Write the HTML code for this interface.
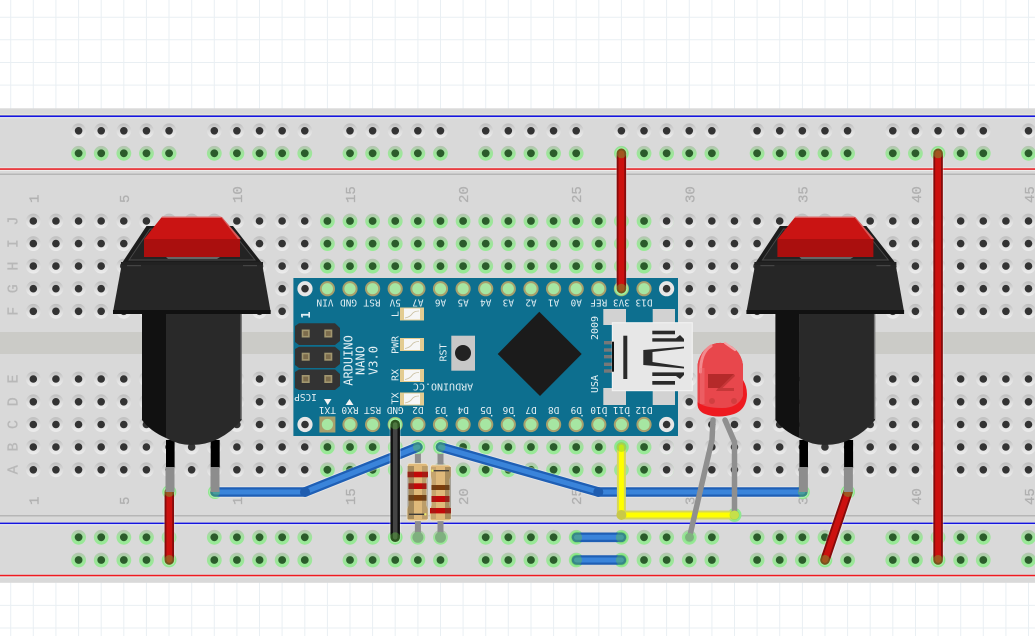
<!DOCTYPE html>
<html>
<head>
<meta charset="utf-8">
<style>
html,body{margin:0;padding:0;background:#fff;width:1035px;height:636px;overflow:hidden}
svg{display:block;filter:blur(.35px)}
.n{font-family:"Liberation Mono",monospace;font-size:14px;fill:#b0b0b0;stroke:#b0b0b0;stroke-width:.3}
.l{font-family:"Liberation Mono",monospace;font-size:15px;fill:#b8b8b8;stroke:#b8b8b8;stroke-width:.3;text-anchor:middle}
.p{font-family:"DejaVu Sans Mono","Liberation Mono",monospace;font-size:9.4px;fill:#e4f0f4;text-anchor:middle}
.w{font-family:"DejaVu Sans Mono","Liberation Mono",monospace;fill:#e4f0f4;text-anchor:middle}
.wire{fill:none;stroke-linecap:round;stroke-linejoin:round}
</style>
</head>
<body>
<svg xmlns="http://www.w3.org/2000/svg" xmlns:xlink="http://www.w3.org/1999/xlink" width="1035" height="636" viewBox="0 0 1035 636">
<defs>
<linearGradient id="gh" x1="0" y1="0" x2="0" y2="1"><stop offset="0" stop-color="#bcbcbc"/><stop offset=".5" stop-color="#dcdcdc"/><stop offset="1" stop-color="#eeeeee"/></linearGradient>
<linearGradient id="gg" x1="0" y1="0" x2="0" y2="1"><stop offset="0" stop-color="#b7c2b3"/><stop offset=".45" stop-color="#9fe49c"/><stop offset="1" stop-color="#96ea94"/></linearGradient>
<g id="h"><circle r="7.4" fill="url(#gh)"/><circle r="3.8" fill="#333"/></g>
<g id="g"><circle r="7.4" fill="url(#gg)"/><circle r="3.9" fill="#2b5c2b"/></g>
<g id="r5h"><use href="#h" x="0"/><use href="#h" x="22.62"/><use href="#h" x="45.24"/><use href="#h" x="67.86"/><use href="#h" x="90.48"/></g>
<g id="r5g"><use href="#g" x="0"/><use href="#g" x="22.62"/><use href="#g" x="45.24"/><use href="#g" x="67.86"/><use href="#g" x="90.48"/></g>
<g id="railh"><use href="#r5h" x="78.6"/><use href="#r5h" x="214.3"/><use href="#r5h" x="350"/><use href="#r5h" x="485.7"/><use href="#r5h" x="621.4"/><use href="#r5h" x="757.1"/><use href="#r5h" x="892.8"/><use href="#r5h" x="1028.5"/></g>
<g id="railg"><use href="#r5g" x="78.6"/><use href="#r5g" x="214.3"/><use href="#r5g" x="350"/><use href="#r5g" x="485.7"/><use href="#r5g" x="621.4"/><use href="#r5g" x="757.1"/><use href="#r5g" x="892.8"/><use href="#r5g" x="1028.5"/></g>
<g id="mrow">
<use href="#r5h" x="33.3"/><use href="#r5h" x="146.4"/><use href="#r5h" x="259.5"/>
<use href="#g" x="327.4"/><use href="#r5g" x="350"/><use href="#r5g" x="463.1"/><use href="#r5g" x="576.2"/>
<use href="#r5h" x="666.6"/><use href="#r5h" x="779.7"/><use href="#r5h" x="892.8"/><use href="#h" x="1005.9"/><use href="#h" x="1028.5"/>
</g>
<g id="pad"><circle r="7.6" fill="#a8a06c"/><circle r="5.6" fill="#a6e6a2"/></g>
<g id="mh"><circle r="7.6" fill="#e6e6e6"/><circle r="3.8" fill="#333"/></g>
<g id="smd"><rect x="-12" y="-6.5" width="24" height="13" fill="#e3cc91"/><rect x="-8" y="-5.5" width="16" height="11" fill="#f6f6f6"/><path d="M-7 4 Q-2 3 0 0 T7 -3" fill="none" stroke="#c9bfa0" stroke-width=".8"/></g>
<g id="ic"><rect x="-4" y="-4" width="8" height="8" fill="#a2976f"/><rect x="-2.4" y="-2.4" width="4.8" height="4.8" fill="#7c6c4c"/></g>
<g id="button">
<polygon points="146.5,226 233,226 262,263 122,263" fill="#1c1c1c"/>
<polygon points="150,229 230,229 255,260 129,260" fill="#232323" stroke="#4a4a4a" stroke-width=".9"/>
<polygon points="162,216.7 220.7,216.7 240,239.3 144,239.3" fill="#ca1413"/>
<polygon points="220.7,216.7 222,217 241,239.3 238,239.3" fill="#d85a5a"/>
<polygon points="162,216.7 220.7,216.7 221,218 161,218" fill="#e06060"/>
<rect x="144" y="239" width="96" height="18" fill="#aa0f0e"/>
<polygon points="166,257 220,257 217,259 168,259" fill="#666"/>
<rect x="166" y="440" width="8.6" height="28" fill="#000"/>
<rect x="210.7" y="440" width="9" height="28" fill="#000"/>
<rect x="165.5" y="467" width="9" height="25" fill="#8d8d8d"/>
<rect x="210.5" y="467" width="9" height="25" fill="#8d8d8d"/>
<path d="M166 313 H241.7 V420 Q220 445 191.7 445 Q178 445 166 438 Z" fill="#292929"/>
<path d="M142 313 H166 V438 Q150 431 142 420 Z" fill="#111"/>
<rect x="240.5" y="314" width="1.4" height="105" fill="#777"/>
<polygon points="122,263 262,263 270.7,312 113,312" fill="#262626"/>
<rect x="113" y="310" width="157.7" height="4" fill="#111"/>
<rect x="121" y="262" width="142" height="3" fill="#222"/>
<rect x="127" y="265" width="14" height="1.2" fill="#444"/>
<rect x="243" y="265" width="14" height="1.2" fill="#444"/>
</g>
</defs>

<!-- grid background -->
<rect width="1035" height="636" fill="#fff"/>
<g stroke="#e9eff3" stroke-width="1">
<path d="M10.7 0V636M33.3 0V636M55.9 0V636M78.6 0V636M101.2 0V636M123.8 0V636M146.4 0V636M169 0V636M191.7 0V636M214.3 0V636M236.9 0V636M259.5 0V636M282.1 0V636M304.8 0V636M327.4 0V636M350 0V636M372.6 0V636M395.2 0V636M417.9 0V636M440.5 0V636M463.1 0V636M485.7 0V636M508.3 0V636M531 0V636M553.6 0V636M576.2 0V636M598.8 0V636M621.4 0V636M644 0V636M666.6 0V636M689.3 0V636M711.9 0V636M734.5 0V636M757.1 0V636M779.7 0V636M802.4 0V636M825 0V636M847.6 0V636M870.2 0V636M892.8 0V636M915.5 0V636M938.1 0V636M960.7 0V636M983.3 0V636M1005.9 0V636M1028.5 0V636"/>
<path d="M0 17.2H1035M0 39.8H1035M0 62.5H1035M0 85.1H1035M0 605.4H1035M0 628H1035"/>
</g>

<!-- breadboard -->
<rect x="0" y="108.3" width="1035" height="474.5" fill="#d9d9d9"/>
<rect x="0" y="114.4" width="1035" height="1" fill="#f0eecb"/>
<rect x="0" y="115.4" width="1035" height="1.8" fill="#1515e0"/>
<rect x="0" y="117.2" width="1035" height="1" fill="#eef3f5"/>
<rect x="0" y="167.4" width="1035" height="1" fill="#f1e6e6"/>
<rect x="0" y="168.3" width="1035" height="1.6" fill="#e8191f"/>
<rect x="0" y="169.9" width="1035" height="1" fill="#eee"/>
<rect x="0" y="173.6" width="1035" height="1.2" fill="#adadad"/>
<rect x="0" y="332" width="1035" height="22" fill="#cbcbc7"/>
<rect x="0" y="515.2" width="1035" height="1.2" fill="#adadad"/>
<rect x="0" y="522.6" width="1035" height="1.6" fill="#1515e0"/>
<rect x="0" y="524.2" width="1035" height="1" fill="#eef3f5"/>
<rect x="0" y="574.8" width="1035" height="1.6" fill="#f01a20"/>
<rect x="0" y="576.4" width="1035" height="1" fill="#eaf2f2"/>

<use href="#railh" y="130.8"/>
<use href="#railg" y="153.3"/>
<use href="#railg" y="537.3"/>
<use href="#railg" y="560"/>
<use href="#mrow" y="221"/><use href="#mrow" y="243.6"/><use href="#mrow" y="266.1"/><use href="#mrow" y="288.7"/><use href="#mrow" y="311.3"/>
<use href="#mrow" y="379"/><use href="#mrow" y="401.8"/><use href="#mrow" y="424.5"/><use href="#mrow" y="447"/><use href="#mrow" y="469.8"/>

<!-- numbers top -->
<g class="n">
<text transform="translate(38.5,203) rotate(-90)">1</text>
<text transform="translate(129,203) rotate(-90)">5</text>
<text transform="translate(242,203) rotate(-90)">10</text>
<text transform="translate(355,203) rotate(-90)">15</text>
<text transform="translate(468,203) rotate(-90)">20</text>
<text transform="translate(581,203) rotate(-90)">25</text>
<text transform="translate(694.5,203) rotate(-90)">30</text>
<text transform="translate(807.5,203) rotate(-90)">35</text>
<text transform="translate(921,203) rotate(-90)">40</text>
<text transform="translate(1034,203) rotate(-90)">45</text>
<text transform="translate(38.5,505) rotate(-90)">1</text>
<text transform="translate(129,505) rotate(-90)">5</text>
<text transform="translate(242,505) rotate(-90)">10</text>
<text transform="translate(355,505) rotate(-90)">15</text>
<text transform="translate(468,505) rotate(-90)">20</text>
<text transform="translate(581,505) rotate(-90)">25</text>
<text transform="translate(694.5,505) rotate(-90)">30</text>
<text transform="translate(807.5,505) rotate(-90)">35</text>
<text transform="translate(921,505) rotate(-90)">40</text>
<text transform="translate(1034,505) rotate(-90)">45</text>
</g>
<g class="l">
<text transform="translate(17.5,221) rotate(-90)">J</text>
<text transform="translate(17.5,243.6) rotate(-90)">I</text>
<text transform="translate(17.5,266.1) rotate(-90)">H</text>
<text transform="translate(17.5,288.7) rotate(-90)">G</text>
<text transform="translate(17.5,311.3) rotate(-90)">F</text>
<text transform="translate(17.5,379) rotate(-90)">E</text>
<text transform="translate(17.5,401.8) rotate(-90)">D</text>
<text transform="translate(17.5,424.5) rotate(-90)">C</text>
<text transform="translate(17.5,447) rotate(-90)">B</text>
<text transform="translate(17.5,469.8) rotate(-90)">A</text>
</g>

<!-- Arduino Nano -->
<rect x="293.4" y="278" width="384.6" height="158" fill="#0d6f8f"/>
<use href="#mh" x="305" y="288.7"/><use href="#mh" x="305" y="424.5"/><use href="#mh" x="666.6" y="288.7"/><use href="#mh" x="666.6" y="424.5"/>
<g>
<use href="#pad" x="327.4" y="288.7"/><use href="#pad" x="350" y="288.7"/><use href="#pad" x="372.6" y="288.7"/><use href="#pad" x="395.2" y="288.7"/><use href="#pad" x="417.9" y="288.7"/><use href="#pad" x="440.5" y="288.7"/><use href="#pad" x="463.1" y="288.7"/><use href="#pad" x="485.7" y="288.7"/><use href="#pad" x="508.3" y="288.7"/><use href="#pad" x="531" y="288.7"/><use href="#pad" x="553.6" y="288.7"/><use href="#pad" x="576.2" y="288.7"/><use href="#pad" x="598.8" y="288.7"/><use href="#pad" x="621.4" y="288.7"/><use href="#pad" x="644" y="288.7"/>
<rect x="319.4" y="416.5" width="16" height="16" fill="#a8a06c"/>
<use href="#pad" x="327.4" y="424.5"/><use href="#pad" x="350" y="424.5"/><use href="#pad" x="372.6" y="424.5"/><use href="#pad" x="395.2" y="424.5"/><use href="#pad" x="417.9" y="424.5"/><use href="#pad" x="440.5" y="424.5"/><use href="#pad" x="463.1" y="424.5"/><use href="#pad" x="485.7" y="424.5"/><use href="#pad" x="508.3" y="424.5"/><use href="#pad" x="531" y="424.5"/><use href="#pad" x="553.6" y="424.5"/><use href="#pad" x="576.2" y="424.5"/><use href="#pad" x="598.8" y="424.5"/><use href="#pad" x="621.4" y="424.5"/><use href="#pad" x="644" y="424.5"/>
</g>
<g class="p">
<text transform="translate(325,299.6) rotate(180)">VIN</text>
<text transform="translate(348.5,299.6) rotate(180)">GND</text>
<text transform="translate(372,299.6) rotate(180)">RST</text>
<text transform="translate(395.2,299.6) rotate(180)">5V</text>
<text transform="translate(417.9,299.6) rotate(180)">A7</text>
<text transform="translate(440.5,299.6) rotate(180)">A6</text>
<text transform="translate(463.1,299.6) rotate(180)">A5</text>
<text transform="translate(485.7,299.6) rotate(180)">A4</text>
<text transform="translate(508.3,299.6) rotate(180)">A3</text>
<text transform="translate(531,299.6) rotate(180)">A2</text>
<text transform="translate(553.6,299.6) rotate(180)">A1</text>
<text transform="translate(576.2,299.6) rotate(180)">A0</text>
<text transform="translate(598.8,299.6) rotate(180)">REF</text>
<text transform="translate(621.4,299.6) rotate(180)">3V3</text>
<text transform="translate(644,299.6) rotate(180)">D13</text>
<text transform="translate(327.4,407) rotate(180)">TX1</text>
<text transform="translate(350,407) rotate(180)">RX0</text>
<text transform="translate(372.6,407) rotate(180)">RST</text>
<text transform="translate(395.2,407) rotate(180)">GND</text>
<text transform="translate(417.9,407) rotate(180)">D2</text>
<text transform="translate(440.5,407) rotate(180)">D3</text>
<text transform="translate(463.1,407) rotate(180)">D4</text>
<text transform="translate(485.7,407) rotate(180)">D5</text>
<text transform="translate(508.3,407) rotate(180)">D6</text>
<text transform="translate(531,407) rotate(180)">D7</text>
<text transform="translate(553.6,407) rotate(180)">D8</text>
<text transform="translate(576.2,407) rotate(180)">D9</text>
<text transform="translate(598.8,407) rotate(180)">D10</text>
<text transform="translate(621.4,407) rotate(180)">D11</text>
<text transform="translate(644,407) rotate(180)">D12</text>
<text transform="translate(305.5,394) rotate(180)">ICSP</text>
</g>
<g fill="#e4f0f4"><circle cx="446.7" cy="415.7" r=".8"/><circle cx="491.7" cy="415.7" r=".8"/><circle cx="514.3" cy="415.7" r=".8"/><circle cx="582" cy="415.7" r=".8"/><circle cx="606" cy="415.7" r=".8"/><circle cx="629" cy="415.7" r=".8"/></g>
<polygon points="324,399 331.5,399 327.7,405" fill="#f2f2f2"/>
<polygon points="345.5,405 353.5,405 349.5,399" fill="#f2f2f2"/>

<!-- ICSP -->
<g fill="#333">
<polygon points="295,326 299,323.3 335,323.3 340,328 340,341 335,345 299,345 295,342"/>
<polygon points="295,349 299,346.7 335,346.7 340,351 340,364 335,368 299,368 295,365"/>
<polygon points="295,372 299,369.5 335,369.5 340,374 340,386 335,390 299,390 295,388"/>
</g>
<use href="#ic" x="305.7" y="333.5"/><use href="#ic" x="328.3" y="333.5"/>
<use href="#ic" x="305.7" y="356.7"/><use href="#ic" x="328.3" y="356.7"/>
<use href="#ic" x="305.7" y="379"/><use href="#ic" x="328.3" y="379"/>
<text class="w" font-size="12" font-weight="bold" transform="translate(310,315) rotate(-90)">1</text>

<g class="w" font-size="12">
<text transform="translate(352.5,360.5) rotate(-90)">ARDUINO</text>
<text transform="translate(364.3,360.5) rotate(-90)">NANO</text>
<text transform="translate(377.5,360.5) rotate(-90)">V3.0</text>
</g>
<g class="w" font-size="10">
<text transform="translate(443,383.7) rotate(180)">ARDUINO.CC</text>
<text transform="translate(398.5,314) rotate(-90)">L</text>
<text transform="translate(398.5,345) rotate(-90)">PWR</text>
<text transform="translate(398.5,375) rotate(-90)">RX</text>
<text transform="translate(398.5,398.5) rotate(-90)">TX</text>
<text transform="translate(446.5,352.5) rotate(-90)">RST</text>
<text transform="translate(598,328) rotate(-90)">2009</text>
<text transform="translate(598,384) rotate(-90)">USA</text>
</g>
<use href="#smd" x="412" y="314"/><use href="#smd" x="412" y="344.5"/><use href="#smd" x="412" y="375.5"/><use href="#smd" x="412" y="399"/>

<rect x="451.3" y="335.7" width="23.7" height="35" fill="#c8c8c8"/>
<circle cx="463" cy="353" r="8" fill="#222"/>
<polygon points="497.7,354 539.3,311.7 581.7,354 540,396" fill="#1b1b1b"/>

<!-- USB -->
<g fill="#d2d2d2">
<rect x="603.3" y="309" width="22.7" height="16"/><rect x="652.7" y="309" width="22.3" height="16"/>
<rect x="603.3" y="388" width="22.7" height="17"/><rect x="652.7" y="388" width="22.3" height="17"/>
</g>
<g fill="#787878">
<rect x="604" y="341" width="9" height="3.4"/><rect x="604" y="348.3" width="9" height="3.4"/><rect x="604" y="355" width="9" height="3.4"/><rect x="604" y="362.6" width="9" height="3.4"/><rect x="604" y="369.3" width="9" height="3.4"/>
</g>
<rect x="612.3" y="322.7" width="80" height="68" fill="#e7e7e7" stroke="#f4f4f4" stroke-width="1"/>
<rect x="612" y="341.7" width="2" height="30" fill="#111"/>
<g fill="#2a2a2a">
<rect x="623.3" y="335.7" width="4" height="43.3"/>
<rect x="652.3" y="330.7" width="22.7" height="3.6"/>
<polygon points="652.3,338.3 676,338.3 680,335 684,339 684,341.6 652.3,341.6"/>
<polygon points="643.3,350 684,346.6 684,348.4 652.5,352 652.5,362 684,366.8 684,368.5 643.3,365"/>
<polygon points="652.3,372.4 684,372.4 684,375 680,379 676,376 652.3,376"/>
<rect x="652.3" y="381" width="22.7" height="3.7"/>
</g>

<!-- resistor legs -->
<g fill="#8d8d8d"><rect x="414.9" y="447" width="6" height="90"/><rect x="437.5" y="447" width="6" height="90"/></g>
<circle cx="417.9" cy="537.3" r="5.5" fill="#7fb07f"/><circle cx="440.5" cy="537.3" r="5.5" fill="#7fb07f"/>

<!-- resistors -->
<g>
<path d="M409 463.5 H425.5 Q428 464 428 467 V476 L426.5 480 V505 L428 509 V518 Q428 520.7 425 520.7 H409.5 Q407 520.7 407 518 V509 L408.5 505 V480 L407.5 476 V467 Q407.5 464 409 463.5Z" fill="#dfb97a" stroke="#efe3c8" stroke-width=".8"/>
<rect x="407.5" y="471.7" width="20.5" height="5.6" fill="#c20a0a"/>
<rect x="408.5" y="483.3" width="18" height="5.7" fill="#c20a0a"/>
<rect x="408.5" y="495" width="18" height="5.7" fill="#7a3d0c"/>
<rect x="409" y="513.6" width="16" height="1.4" fill="#3a3a3a"/>
<path d="M407.5 466 H414 V519 H407.5 Z" fill="#554a33" fill-opacity=".42"/>
<path d="M422 466 H428 V519 H422 Z" fill="#554a33" fill-opacity=".25"/>
<circle cx="425.3" cy="514.3" r="1.2" fill="#ecec6a"/>
</g>
<g>
<path d="M432 465 H448 Q451 465.5 451 468 V476 L449.5 480 V505 L451 509 V518 Q451 520.7 448 520.7 H432.5 Q430 520.7 430 518 V509 L431.5 505 V480 L430.5 476 V468 Q430.5 465.5 432 465Z" fill="#dfb97a" stroke="#efe3c8" stroke-width=".8"/>
<rect x="433" y="470" width="16" height="1.4" fill="#3a3a3a"/>
<rect x="431.5" y="485" width="18" height="5" fill="#7a3d0c"/>
<rect x="431.5" y="496" width="18" height="6" fill="#c20a0a"/>
<rect x="430" y="508" width="21" height="5.4" fill="#c20a0a"/>
<path d="M445 467 H451 V519 H445 Z" fill="#554a33" fill-opacity=".4"/>
<path d="M431 467 H436 V519 H431 Z" fill="#554a33" fill-opacity=".18"/>
<circle cx="432.5" cy="470.7" r="1.2" fill="#ecec6a"/>
</g>

<!-- end halos -->
<g fill="#8fe88f">
<circle cx="621.4" cy="153.3" r="7"/><circle cx="621.4" cy="288.7" r="7"/><circle cx="938.1" cy="153.3" r="7"/><circle cx="938.1" cy="560" r="7"/>
<circle cx="169.3" cy="492" r="7"/><circle cx="169.3" cy="560" r="7"/><circle cx="215" cy="492" r="7"/><circle cx="802.8" cy="492" r="7"/>
<circle cx="848" cy="492" r="7"/><circle cx="825" cy="560" r="7"/><circle cx="395.2" cy="424.5" r="7"/><circle cx="395.2" cy="537.3" r="7"/>
<circle cx="417.9" cy="447" r="7"/><circle cx="440.5" cy="447" r="7"/><circle cx="621.4" cy="447" r="7"/><circle cx="734.5" cy="515" r="7"/>
<circle cx="576.5" cy="537.3" r="7"/><circle cx="621.4" cy="537.3" r="7"/><circle cx="576.5" cy="560" r="7"/><circle cx="621.4" cy="560" r="7"/>
<circle cx="689.5" cy="537.3" r="6"/>
</g>

<!-- blue wires -->
<g class="wire">
<g stroke="#fff" stroke-opacity=".35" stroke-width="11.5">
<polyline points="215,492 305,492 417.9,447"/>
<polyline points="440.5,447 598.3,492 802.8,492"/>
</g>
<g stroke="#1f5fb5" stroke-width="9.6">
<polyline points="215,492 305,492 417.9,447"/>
<polyline points="440.5,447 598.3,492 802.8,492"/>
<line x1="576.5" y1="537.3" x2="621.4" y2="537.3"/>
<line x1="576.5" y1="560" x2="621.4" y2="560"/>
</g>
<g stroke="#3a84da" stroke-width="5">
<polyline points="215,492 305,492 417.9,447"/>
<polyline points="440.5,447 598.3,492 802.8,492"/>
<line x1="576.5" y1="537.3" x2="621.4" y2="537.3"/>
<line x1="576.5" y1="560" x2="621.4" y2="560"/>
</g>
</g>
<circle cx="305" cy="492" r="5" fill="#1f5db0"/><circle cx="598.3" cy="492" r="5" fill="#1f5db0"/>

<!-- yellow wire -->
<g class="wire">
<polyline points="621.4,447 621.4,515 734.5,515" stroke="#d6d65a" stroke-width="9"/>
<polyline points="621.4,447 621.4,515 734.5,515" stroke="#ffff00" stroke-width="5"/>
</g>
<circle cx="621.4" cy="515" r="5" fill="#c9c948"/>

<!-- red and black wires -->
<g class="wire">
<g stroke="#fff" stroke-opacity=".3" stroke-width="11.5">
<line x1="621.4" y1="153.3" x2="621.4" y2="288.7"/>
<line x1="938.1" y1="153.3" x2="938.1" y2="560"/>
<line x1="169.3" y1="492" x2="169.3" y2="560"/>
<line x1="848" y1="492" x2="825" y2="560"/>
<line x1="395.2" y1="424.5" x2="395.2" y2="537.3"/>
</g>
<g stroke="#860b0b" stroke-width="9.5">
<line x1="621.4" y1="153.3" x2="621.4" y2="288.7"/>
<line x1="938.1" y1="153.3" x2="938.1" y2="560"/>
<line x1="169.3" y1="492" x2="169.3" y2="560"/>
<line x1="848" y1="492" x2="825" y2="560"/>
</g>
<g stroke="#cc110f" stroke-width="5.8">
<line x1="621.4" y1="153.3" x2="621.4" y2="288.7"/>
<line x1="938.1" y1="153.3" x2="938.1" y2="560"/>
<line x1="169.3" y1="492" x2="169.3" y2="560"/>
<line x1="848" y1="492" x2="825" y2="560"/>
</g>
<line x1="395.2" y1="424.5" x2="395.2" y2="537.3" stroke="#111" stroke-width="9.5"/>
<line x1="395.2" y1="424.5" x2="395.2" y2="537.3" stroke="#444" stroke-width="4.6"/>
</g>
<g fill="#5ec83c" fill-opacity=".38">
<circle cx="621.4" cy="153.3" r="5"/><circle cx="621.4" cy="288.7" r="5"/><circle cx="938.1" cy="153.3" r="5"/><circle cx="938.1" cy="560" r="5"/>
<circle cx="169.3" cy="492" r="5"/><circle cx="169.3" cy="560" r="5"/><circle cx="848" cy="492" r="5"/><circle cx="825" cy="560" r="5"/>
<circle cx="395.2" cy="424.5" r="5"/><circle cx="395.2" cy="537.3" r="5"/>
<circle cx="215" cy="492" r="5"/><circle cx="802.8" cy="492" r="5"/><circle cx="417.9" cy="447" r="5"/><circle cx="440.5" cy="447" r="5"/>
<circle cx="621.4" cy="447" r="5"/><circle cx="734.5" cy="515" r="5"/>
<circle cx="576.5" cy="537.3" r="5.5"/><circle cx="621.4" cy="537.3" r="5.5"/><circle cx="576.5" cy="560" r="5.5"/><circle cx="621.4" cy="560" r="5.5"/>
</g>

<!-- buttons -->
<use href="#button"/>
<use href="#button" x="633.4"/>

<!-- LED legs -->
<g class="wire" stroke="#8f8f8f" stroke-width="5.5">
<polyline points="713,420 712,440 689.5,537.3"/>
<polyline points="725,420 734.5,442 734.5,515"/>
</g>
<circle cx="689.5" cy="537.3" r="4.5" fill="#7fb07f"/>
<circle cx="734.5" cy="515" r="4.5" fill="#c6e04a"/>

<!-- LED -->
<path d="M697.5 404 V365 A23 26 0 0 1 743 365 V380 Q748 388 746.7 398 Q745 410 734 414 Q718 419 705 414 Q697.5 411 697.5 404Z" fill="#ee1a20"/>
<path d="M697.5 402 V365 A23 26 0 0 1 743 365 V396 Q738 408 722 408 Q704 408 697.5 402Z" fill="#e8474c"/>
<polygon points="708,374 734,374 720,388 708,388" fill="#b52a2a"/>
<polygon points="734,374 735,376 722.5,388 734,388 734,391 716,391 718,388 720,388" fill="#b83030" fill-opacity=".7"/>
<path d="M700.5 372 C700.5 356 706 349 711 346" fill="none" stroke="#f28a8e" stroke-width="3" stroke-linecap="round"/>
<path d="M725 343 L735 350" fill="none" stroke="#f5a3a6" stroke-width="2.2" stroke-linecap="round"/>
<rect x="700" y="368" width="4.5" height="36" fill="#f07478" fill-opacity=".5"/>
<circle cx="712" cy="401" r="3" fill="#c83a3a" fill-opacity=".7"/><circle cx="734" cy="401" r="3" fill="#c83a3a" fill-opacity=".7"/>
</svg>
</body>
</html>
